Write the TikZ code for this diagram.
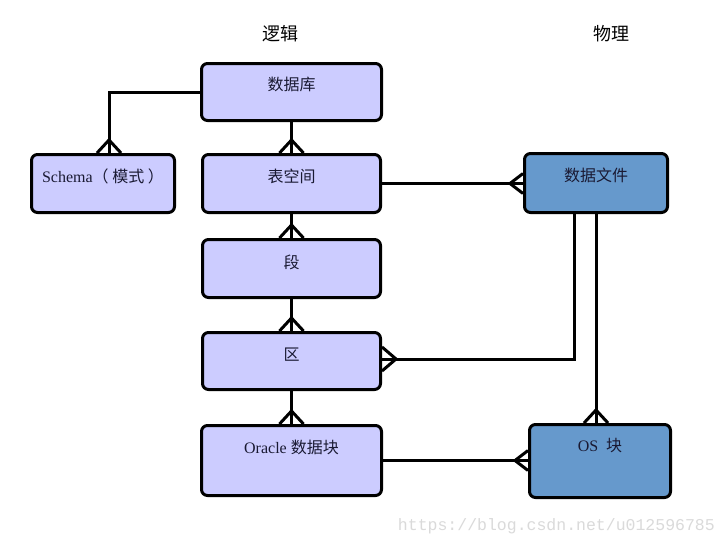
\documentclass[tikz,border=0pt]{standalone}
\usepackage{fontspec}
\setmainfont{Liberation Serif}
\newfontfamily\cjk{Noto Sans CJK SC}
\newfontfamily\wmfont{Liberation Mono}
\usetikzlibrary{calc}
\definecolor{lightbox}{HTML}{CCCCFF}
\definecolor{darkbox}{HTML}{6699CC}
\definecolor{wmgray}{HTML}{DADADA}
\definecolor{txtcol}{HTML}{1A1A33}
\newcommand\crowN[1]{\draw[conn] ($(#1)+(-12,0)$) -- ($(#1)+(0,-13)$) -- ($(#1)+(12,0)$);}
\newcommand\crowW[1]{\draw[conn] ($(#1)+(0,-10)$) -- ($(#1)+(-13,0)$) -- ($(#1)+(0,10)$);}
\newcommand\crowE[1]{\draw[conn] ($(#1)+(0,-12)$) -- ($(#1)+(14,0)$) -- ($(#1)+(0,12)$);}
\begin{document}
\begin{tikzpicture}[x=1pt,y=-1pt,
  box/.style={draw, line width=3pt, rounded corners=6pt, inner sep=0pt},
  lbox/.style={box, fill=lightbox},
  dbox/.style={box, fill=darkbox},
  txt/.style={font=\fontsize{16}{18}\selectfont, text=txtcol, inner sep=0pt},
  title/.style={font=\cjk\fontsize{18}{20}\selectfont, inner sep=0pt},
  conn/.style={line width=3pt}]
\useasboundingbox[fill=white] (0,0) rectangle (726,544);

\node[title] (tl) at (280,34) {逻辑};
\node[title] (tp) at (611,34) {物理};

\node[lbox, minimum width=180pt, minimum height=57pt] (db) at (291.5,92) {};
\node[lbox, minimum width=143pt, minimum height=58pt] (sc) at (103,183.5) {};
\node[lbox, minimum width=178pt, minimum height=58pt] (ts) at (291.5,183.5) {};
\node[dbox, minimum width=143pt, minimum height=59pt] (df) at (596,183) {};
\node[lbox, minimum width=178pt, minimum height=58pt] (sg) at (291.5,268.5) {};
\node[lbox, minimum width=178pt, minimum height=57pt] (ex) at (291.5,361) {};
\node[lbox, minimum width=180pt, minimum height=70pt] (ob) at (291.5,460.5) {};
\node[dbox, minimum width=141pt, minimum height=73pt] (os) at (600,461) {};

\node[txt] (dbt) at ([yshift=-22pt]db.north) {\cjk 数据库};
\node[txt] (sct) at ([yshift=-23pt]sc.north) {Schema{\cjk （ 模式 ）}};
\node[txt] (tst) at ([yshift=-23pt]ts.north) {\cjk 表空间};
\node[txt] (dft) at ([yshift=-23pt]df.north) {\cjk 数据文件};
\node[txt] (sgt) at ([yshift=-24pt]sg.north) {\cjk 段};
\node[txt] (ext) at ([yshift=-24pt]ex.north) {\cjk 区};
\node[txt] (obt) at ([yshift=-23pt]ob.north) {Oracle {\cjk 数据块}};
\node[txt] (ost) at ([yshift=-23pt]os.north) {OS\ \ {\cjk 块}};

% logical chain
\coordinate (scin) at ([xshift=6pt]sc.north);
\draw[conn] (db.west) -| (scin);
\crowN{scin}
\draw[conn] (db) -- (ts); \crowN{ts.north}
\draw[conn] (ts) -- (sg); \crowN{sg.north}
\draw[conn] (sg) -- (ex); \crowN{ex.north}
\draw[conn] (ex) -- (ob); \crowN{ob.north}

% logical to physical
\coordinate (dfin) at (ts.east -| df.west);
\draw[conn] (ts.east) -- (dfin); \crowW{dfin}
\coordinate (dfa) at ([xshift=-22pt]df.south);
\coordinate (exin) at ([yshift=2pt]ex.east);
\draw[conn] (dfa) |- (exin); \crowE{exin}
\coordinate (osin) at (df.south |- os.north);
\draw[conn] (df.south) -- (osin); \crowN{osin}
\coordinate (osw) at (ob.east -| os.west);
\draw[conn] (ob.east) -- (osw); \crowW{osw}

\node[font=\wmfont\fontsize{16.5}{18}\selectfont, text=wmgray, inner sep=0pt, anchor=base east] (wm) at (715,530) {https://blog.csdn.net/u012596785};
\end{tikzpicture}
\end{document}
